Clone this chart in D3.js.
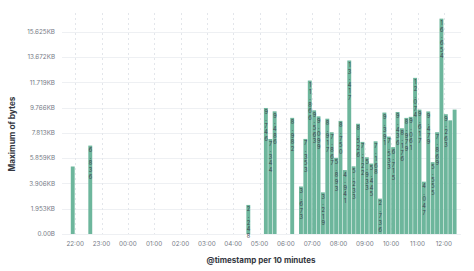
<!DOCTYPE html>
<html>
<head>
<meta charset="utf-8">
<script src="https://cdn.jsdelivr.net/npm/d3@7"></script>
<style>
  html, body { margin: 0; padding: 0; background: #fff; }
  svg { display: block; font-family: Inter, "Noto Sans", sans-serif; }
</style>
</head>
<body>
<svg id="chart" width="474" height="271"></svg>
<script>
// 10 minute buckets (start time) and max bytes in each
var times = ["21:50","22:30","04:30","05:10","05:20","05:30","06:10",
  "06:30","06:40","06:50","07:00","07:10","07:20","07:30","07:40","07:50","08:00","08:10",
  "08:20","08:30","08:40","08:50","09:00","09:10","09:20","09:30","09:40","09:50","10:00",
  "10:10","10:20","10:30","10:40","10:50","11:00","11:10","11:20","11:30","11:40","11:50",
  "12:00","12:10","12:20"];
var maxBytes = [5345,7000,2302,9980,7520,9714,9198,
  3761,7529,12151,9792,9317,3296,9131,8056,6034,8960,5060,
  13739,5359,8731,7293,6075,5576,7340,2802,9616,7714,6876,
  9662,8372,9194,9278,12364,9848,4144,9706,5688,8058,17054,
  9485,9000,9850];
var unlabeled = ["21:50","12:10","12:20"];

var yTicks = [0,2000,4000,6000,8000,10000,12000,14000,16000];
var yTickLabels = ["0.00B","1.953KB","3.906KB","5.859KB","7.813KB","9.766KB","11.719KB","13.672KB","15.625KB"];
var xTicks = ["22:00","23:00","00:00","01:00","02:00","03:00","04:00","05:00","06:00","07:00","08:00","09:00","10:00","11:00","12:00"];

function toDate(s){
  var p = s.split(":");
  var h = +p[0], m = +p[1];
  return new Date(2024, 0, h >= 20 ? 1 : 2, h, m);
}

function draw(){
  var data = times.map(function(t, i){
    return { t: toDate(t), label: t, value: maxBytes[i] };
  });

  var svg = d3.select("#chart");
  var pl = 62, pr = 461, pt = 13, pb = 234;

  var x = d3.scaleTime()
    .domain([toDate("21:30"), toDate("12:39")])
    .range([pl, pr]);

  var y = d3.scaleLinear()
    .domain([0, 17500])
    .range([pb, pt]);

  // horizontal grid
  svg.append("g").selectAll("line")
    .data(yTicks)
    .enter().append("line")
      .attr("x1", pl).attr("x2", pr)
      .attr("y1", function(d){ return Math.round(y(d)) + 0.5; })
      .attr("y2", function(d){ return Math.round(y(d)) + 0.5; })
      .attr("stroke", "#eef0f3")
      .attr("stroke-width", 1);

  // vertical dashed grid
  svg.append("g").selectAll("line")
    .data(xTicks)
    .enter().append("line")
      .attr("x1", function(d){ return Math.round(x(toDate(d))) + 0.5; })
      .attr("x2", function(d){ return Math.round(x(toDate(d))) + 0.5; })
      .attr("y1", pt).attr("y2", pb)
      .attr("stroke", "#e3e6eb")
      .attr("stroke-dasharray", "2,3")
      .attr("stroke-width", 1);

  // bars
  var step = 10 * 60 * 1000;
  svg.append("g").selectAll("rect")
    .data(data)
    .enter().append("rect")
      .attr("x", function(d){ return x(d.t); })
      .attr("width", function(d){ return x(new Date(+d.t + step)) - x(d.t) - 0.5; })
      .attr("y", function(d){ return y(d.value); })
      .attr("height", function(d){ return y(0) - y(d.value); })
      .attr("fill", "#6db69c");

  // value labels, characters stacked inside the bar
  var fmt = d3.format(".3f");
  var labels = svg.append("g")
    .attr("font-size", 5.5)
    .attr("fill", "#3f4450")
    .attr("text-anchor", "middle")
    .selectAll("text")
    .data(data.filter(function(d){ return unlabeled.indexOf(d.label) < 0; }))
    .enter().append("text");

  labels.each(function(d){
    var cx = (x(d.t) + x(new Date(+d.t + step))) / 2;
    var chars = fmt(d.value / 1024).split("");
    d3.select(this).selectAll("tspan")
      .data(chars)
      .enter().append("tspan")
        .attr("x", cx)
        .attr("y", function(c, i){ return y(d.value) + 6.5 + i * 6.6; })
        .text(function(c){ return c; });
  });

  // y axis
  svg.append("g").selectAll("text")
    .data(yTicks)
    .enter().append("text")
      .attr("x", 55)
      .attr("y", function(d){ return y(d) + 2.2; })
      .attr("text-anchor", "end")
      .attr("font-size", 6.3)
      .attr("fill", "#747a85")
      .text(function(d, i){ return yTickLabels[i]; });

  // x axis
  svg.append("g").selectAll("text")
    .data(xTicks)
    .enter().append("text")
      .attr("x", function(d){ return x(toDate(d)); })
      .attr("y", 245.5)
      .attr("text-anchor", "middle")
      .attr("font-size", 6.3)
      .attr("fill", "#747a85")
      .text(function(d){ return d; });

  // axis titles
  svg.append("text")
    .attr("transform", "translate(14.5,134) rotate(-90)")
    .attr("text-anchor", "middle")
    .attr("font-size", 8.3)
    .attr("font-weight", "bold")
    .attr("fill", "#343741")
    .text("Maximum of bytes");

  svg.append("text")
    .attr("x", 261)
    .attr("y", 263)
    .attr("text-anchor", "middle")
    .attr("font-size", 8)
    .attr("font-weight", "bold")
    .attr("fill", "#343741")
    .text("@timestamp per 10 minutes");
}

draw();
</script>
</body>
</html>
